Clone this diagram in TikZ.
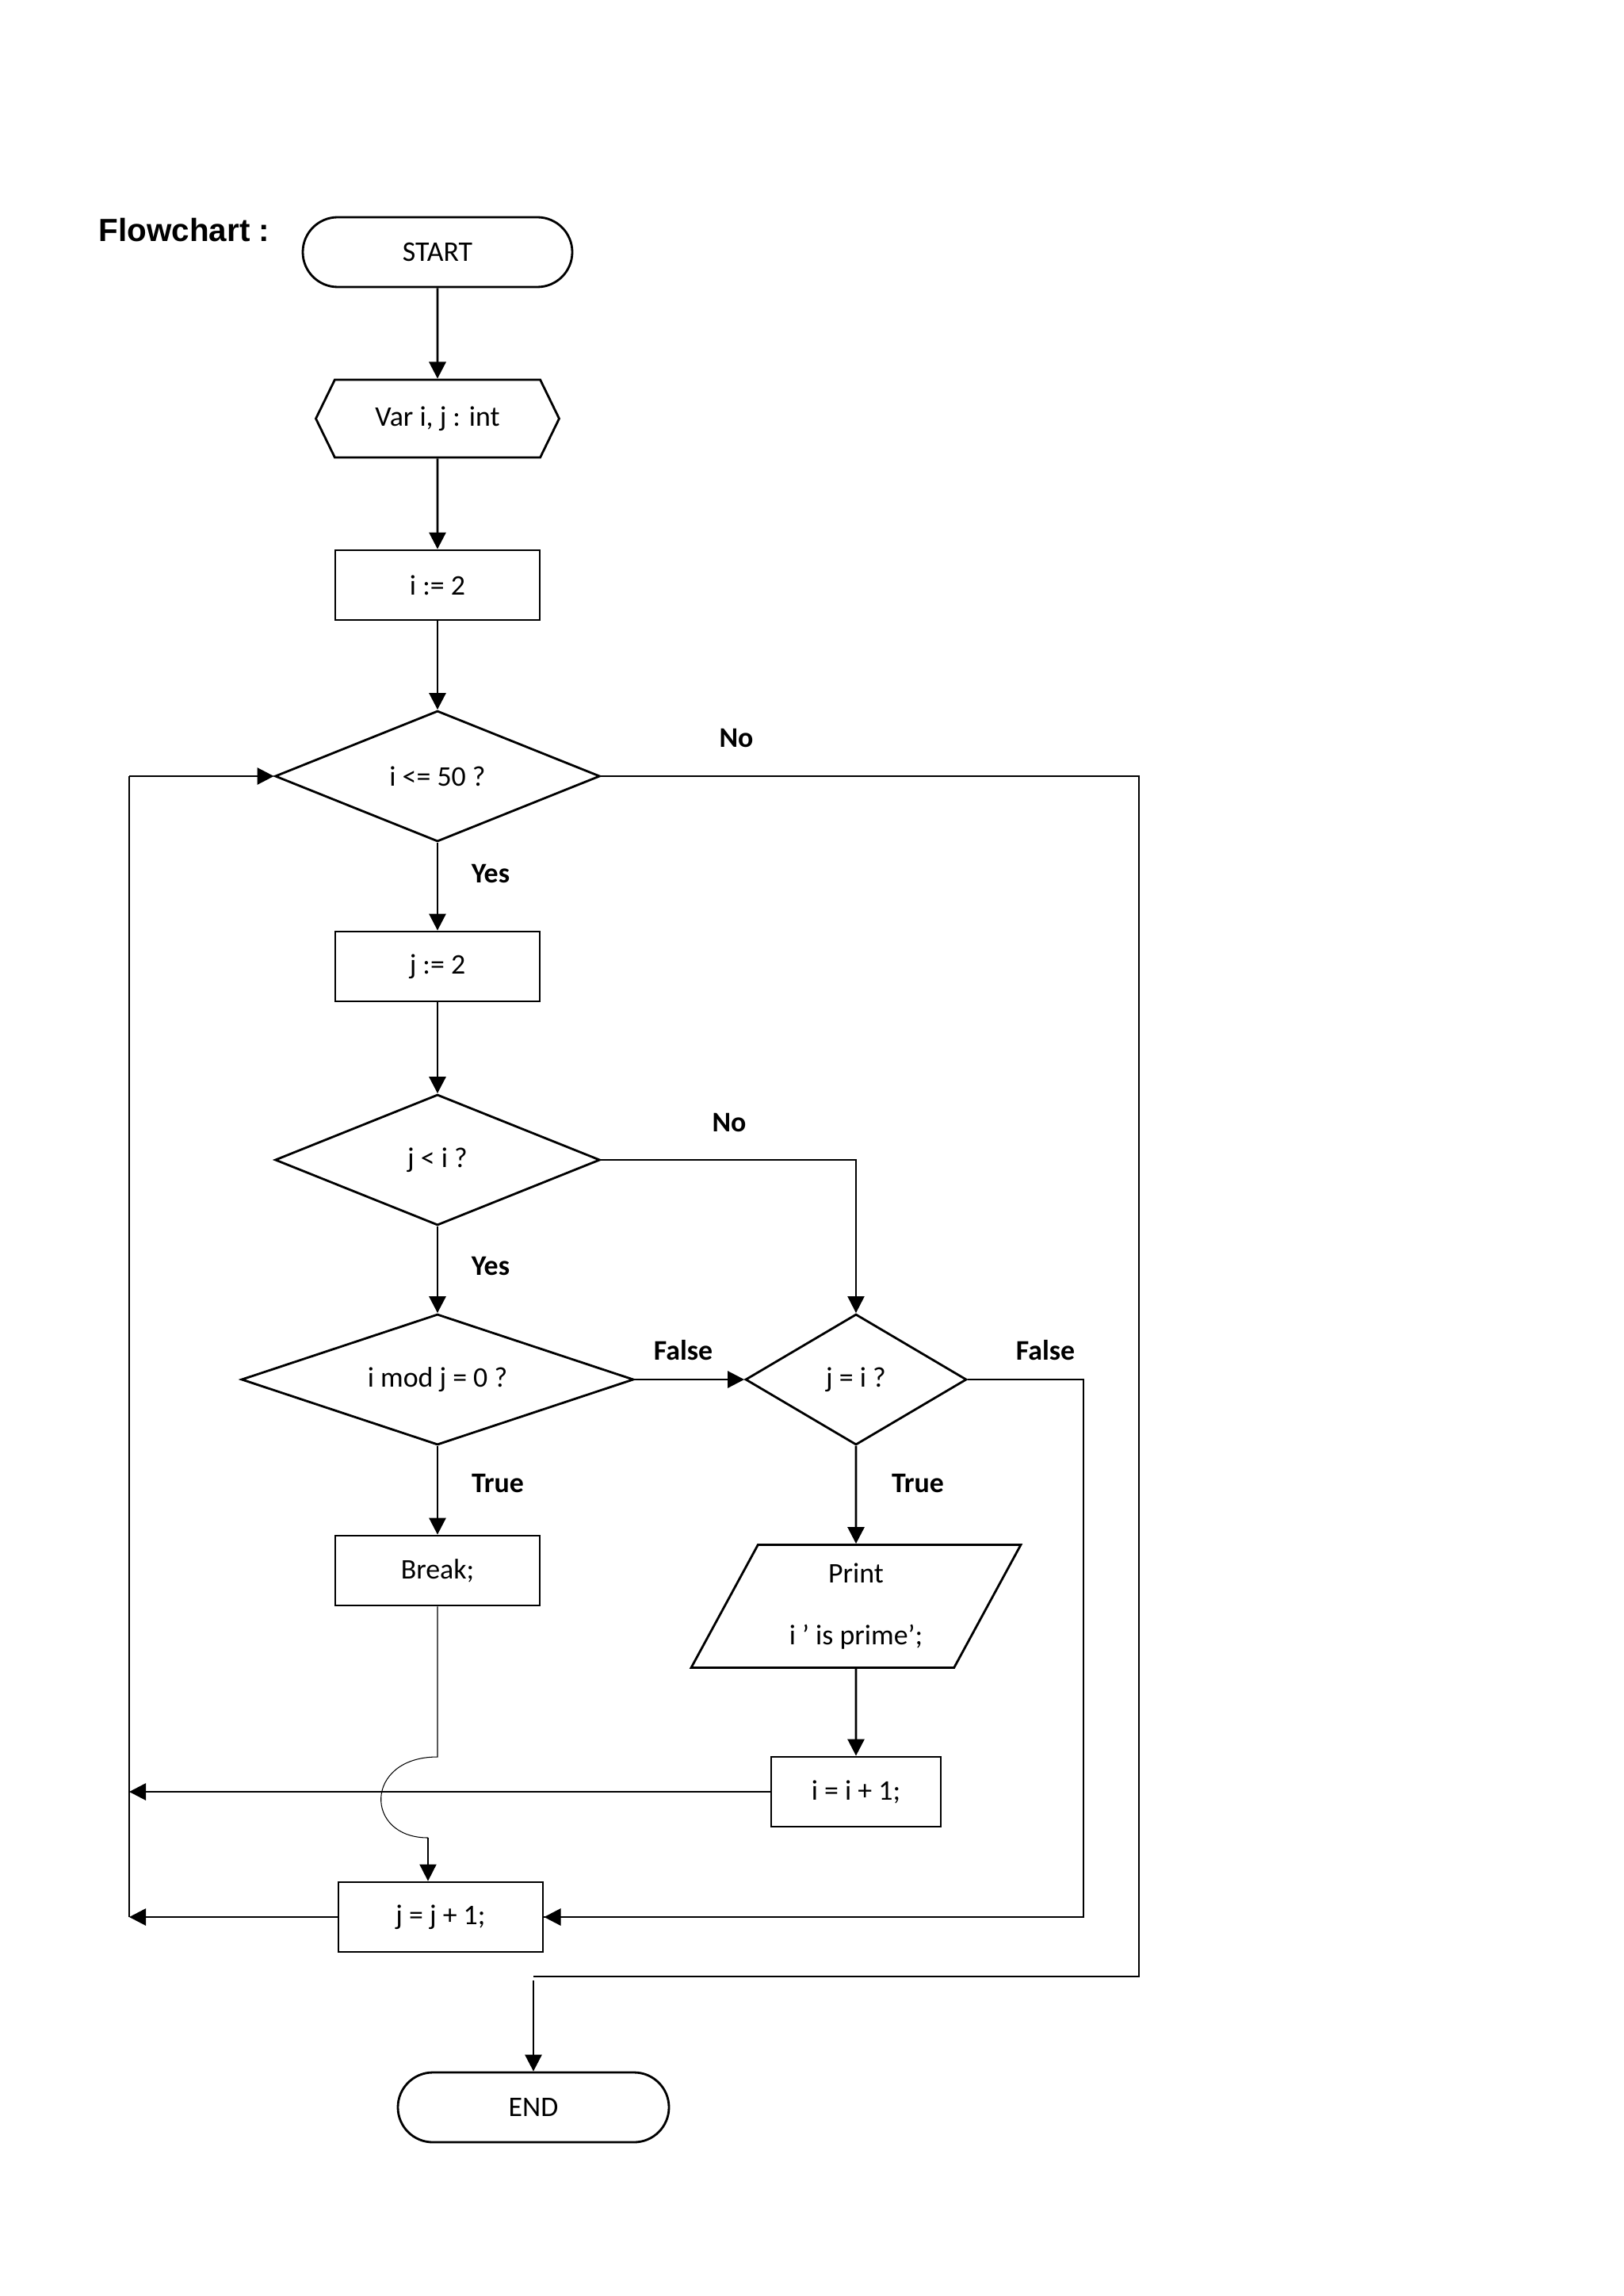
\documentclass[tikz,border=0pt]{standalone}
\usepackage{fontspec}
\setmainfont{Carlito}
\newfontfamily\headfont{Liberation Sans}
\usetikzlibrary{shapes.geometric,shapes.symbols,arrows.meta}

\begin{document}
\begin{tikzpicture}[
    font=\fontsize{10.2}{12}\selectfont,
    box/.style={draw,line width=0.8pt,inner sep=0pt,minimum width=2.58cm,minimum height=0.88cm},
    term/.style={draw,line width=0.8pt,inner sep=0pt,rounded corners=0.44cm,minimum height=0.88cm},
    decision/.style={draw,diamond,aspect=3,line width=0.8pt,inner sep=0pt,minimum height=1.65cm},
    lbl/.style={font=\fontsize{10.2}{12}\selectfont\bfseries},
    arr/.style={line width=0.8pt,-{Triangle[length=6pt,width=6pt]}},
    flow/.style={line width=0.5pt}]

      \useasboundingbox (0,0) rectangle (20.48,-28.96);

      \node[anchor=west,inner sep=0pt,font=\headfont\fontsize{11.5}{13}\selectfont\bfseries] (title) at (1.24,-2.90) {Flowchart :};

      \node[term,minimum width=3.40cm] (start) at (5.52,-3.18) {START};
      \node[draw,line width=0.8pt,inner sep=0pt,signal,signal to=west and east,signal pointer angle=128,
            minimum width=3.07cm,minimum height=0.98cm] (var) at (5.52,-5.28) {Var i, j : int};
      \node[box] (iset) at (5.52,-7.38) {i := 2};
      \node[decision,minimum width=4.10cm] (iloop) at (5.52,-9.79) {i <= 50 ?};
      \node[box] (jset) at (5.52,-12.19) {j := 2};
      \node[decision,minimum width=4.10cm] (jloop) at (5.52,-14.63) {j < i ?};
      \node[decision,minimum width=4.95cm] (mod) at (5.52,-17.40) {i mod j = 0 ?};
      \node[decision,minimum width=2.79cm] (equal) at (10.80,-17.40) {j = i ?};
      \node[box] (brk) at (5.52,-19.81) {Break;};
      \node[draw,line width=0.8pt,inner sep=0pt,trapezium,trapezium left angle=62,trapezium right angle=118,
            trapezium stretches=true,minimum width=4.17cm,minimum height=1.55cm,
            align=center,font=\fontsize{10.2}{22}\selectfont] (prt) at (10.80,-20.26) {Print\\i ’ is prime’;};
      \node[box,minimum width=2.14cm] (iinc) at (10.80,-22.60) {i = i + 1;};
      \node[box] (jinc) at (5.56,-24.18) {j = j + 1;};
      \node[term,minimum width=3.42cm] (end) at (6.73,-26.58) {END};

      \node[lbl] (no1) at (9.29,-9.31) {No};
      \node[lbl] (yes1) at (6.19,-11.02) {Yes};
      \node[lbl] (no2) at (9.20,-14.16) {No};
      \node[lbl] (yes2) at (6.19,-15.97) {Yes};
      \node[lbl] (false1) at (8.62,-17.03) {False};
      \node[lbl] (false2) at (13.19,-17.03) {False};
      \node[lbl] (true1) at (6.28,-18.71) {True};
      \node[lbl] (true2) at (11.58,-18.71) {True};

      \coordinate (lefttop) at (1.63,-9.79);
      \coordinate (lefti) at (1.63,-22.60);
      \coordinate (leftj) at (1.63,-24.18);
      \coordinate (falsecorner) at (13.67,-17.40);
      \coordinate (nocorner) at (14.37,-9.79);
      \coordinate (nobottom) at (6.73,-24.93);
      \coordinate (brkbend) at (5.52,-22.16);
      \coordinate (brkback) at (5.40,-23.18);

      \draw[arr] (start) -- (var);
      \draw[arr] (var) -- (iset);
      \draw[arr] (iset) -- (iloop);
      \draw[arr] (iloop) -- (jset);
      \draw[arr] (jset) -- (jloop);
      \draw[arr] (jloop) -- (mod);
      \draw[arr] (mod) -- (brk);
      \draw[arr] (equal) -- (prt);
      \draw[arr] (prt) -- (iinc);
      \draw[arr] (mod.east) -- (equal.west);
      \draw[arr,line width=0.6pt] (jloop.east) -| (equal.north);

      \draw[arr] (iinc.west) -- (lefti);
      \draw[arr] (jinc.west) -- (leftj);
      \draw[flow] (leftj) -- (lefttop);
      \draw[arr] (lefttop) -- (iloop.west);

      \draw[flow] (equal.east) -- (falsecorner) |- (jinc.east);
      \draw[arr] (falsecorner |- jinc.east) -- (jinc.east);

      \draw[flow] (iloop.east) -- (nocorner) |- (nobottom);
      \draw[arr] ([yshift=-0.05cm]nobottom) -- (end);

      \draw[line width=0.3pt] (brk.south) -- (brkbend)
            .. controls (4.59,-22.16) and (4.59,-23.18) .. (brkback);
      \draw[arr,line width=0.5pt] (brkback) -- (brkback |- jinc.north);

\end{tikzpicture}
\end{document}
